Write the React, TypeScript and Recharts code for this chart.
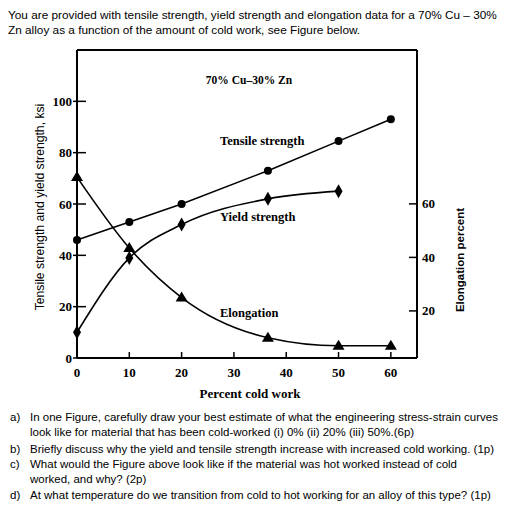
import React from "react";
import { LineChart, Line, XAxis, YAxis, ReferenceLine } from "recharts";

const coldWork = [0, 10, 20, 36.5, 50, 60];
const tensileStrength = [46, 53, 60, 73, 84.5, 93];
const yieldStrength = [10, 39, 52, 62, 65, null];
const elongationPct = [70, 43.5, 25, 10, 7, 7];

const xTicks = [0, 10, 20, 30, 40, 50, 60];
const leftTicks = [0, 20, 40, 60, 80, 100];
const rightTicks = [20, 40, 60];

const introLines = [
  "You are provided with tensile strength, yield strength and elongation data for a 70% Cu \u2013 30%",
  "Zn alloy as a function of the amount of cold work, see Figure below.",
];

const questionLines: { tag: string; text: string; y: number }[] = [
  { tag: "a)", text: "In one Figure, carefully draw your best estimate of what the engineering stress-strain curves", y: 417 },
  { tag: "", text: "look like for material that has been cold-worked (i) 0% (ii) 20% (iii) 50%.(6p)", y: 432 },
  { tag: "b)", text: "Briefly discuss why the yield and tensile strength increase with increased cold working. (1p)", y: 449 },
  { tag: "c)", text: "What would the Figure above look like if the material was hot worked instead of cold", y: 464 },
  { tag: "", text: "worked, and why? (2p)", y: 479 },
  { tag: "d)", text: "At what temperature do we transition from cold to hot working for an alloy of this type? (1p)", y: 495 },
];

const data = coldWork.map((x, i) => ({
  x,
  tensile: tensileStrength[i],
  yield: yieldStrength[i],
  elong: elongationPct[i],
}));

const SERIF = "'Liberation Serif', 'DejaVu Serif', serif";
const SANS = "'Liberation Sans', Arial, sans-serif";

const LeftTick = (props: any) => {
  const { x, y, payload } = props;
  return (
    <g>
      <line x1={x - 4} x2={x + 9} y1={y} y2={y} stroke="#000" strokeWidth={1.5} />
      <text x={x - 5} y={y} dy="0.35em" textAnchor="end" fontFamily={SERIF} fontWeight="bold" fontSize={13} fill="#000">
        {payload.value}
      </text>
    </g>
  );
};

const RightTick = (props: any) => {
  const { x, y, payload } = props;
  return (
    <g>
      <line x1={x - 8} x2={x} y1={y} y2={y} stroke="#000" strokeWidth={1.5} />
      <text x={x + 5} y={y} dy="0.35em" textAnchor="start" fontFamily={SERIF} fontWeight="bold" fontSize={13} fill="#000">
        {payload.value}
      </text>
    </g>
  );
};

const BottomTick = (props: any) => {
  const { x, y, payload } = props;
  return (
    <g>
      {payload.value !== 0 && <line x1={x} x2={x} y1={y - 6} y2={y} stroke="#000" strokeWidth={1.5} />}
      <text x={x} y={y + 14} dy="0.35em" textAnchor="middle" fontFamily={SERIF} fontWeight="bold" fontSize={13} fill="#000">
        {payload.value}
      </text>
    </g>
  );
};

const CircleDot = (props: any) => {
  const { cx, cy, index } = props;
  if (cx == null || cy == null) return <g key={index} />;
  return <circle key={index} cx={cx} cy={cy} r={4} fill="#000" />;
};

const DiamondDot = (props: any) => {
  const { cx, cy, index, value } = props;
  if (cx == null || cy == null || value == null) return <g key={index} />;
  return (
    <polygon
      key={index}
      points={`${cx},${cy - 7} ${cx + 4},${cy} ${cx},${cy + 7} ${cx - 4},${cy}`}
      fill="#000"
    />
  );
};

const TriangleDot = (props: any) => {
  const { cx, cy, index } = props;
  if (cx == null || cy == null) return <g key={index} />;
  return (
    <polygon
      key={index}
      points={`${cx},${cy - 6} ${cx + 6},${cy + 4} ${cx - 6},${cy + 4}`}
      fill="#000"
    />
  );
};

const abs = (style: React.CSSProperties): React.CSSProperties => ({
  position: "absolute",
  whiteSpace: "nowrap",
  color: "#000",
  ...style,
});

export default function App() {
  return (
    <div style={{ position: "absolute", left: 0, top: 0, width: 530, height: 527, background: "#fff", overflow: "hidden" }}>
      {introLines.map((t, i) => (
        <div key={i} style={abs({ left: 8, top: 8 + i * 15, fontFamily: SANS, fontSize: 11.8, lineHeight: "14px" })}>
          {t}
        </div>
      ))}

      <div style={{ position: "absolute", left: 0, top: 0 }}>
        <LineChart width={530} height={527} data={data} margin={{ top: 50, left: 47, right: 83, bottom: 139 }}>
          <XAxis
            dataKey="x"
            type="number"
            domain={[0, 65]}
            ticks={xTicks}
            height={30}
            tickSize={0}
            tickMargin={0}
            tickLine={false}
            axisLine={{ stroke: "#000", strokeWidth: 2 }}
            tick={<BottomTick />}
            interval={0}
          />
          <YAxis
            yAxisId="left"
            type="number"
            domain={[0, 120]}
            ticks={leftTicks}
            width={30}
            tickSize={0}
            tickMargin={0}
            tickLine={false}
            axisLine={{ stroke: "#000", strokeWidth: 2 }}
            tick={<LeftTick />}
            interval={0}
          />
          <YAxis
            yAxisId="right"
            orientation="right"
            type="number"
            domain={[2.4, 117.5]}
            ticks={rightTicks}
            width={30}
            tickSize={0}
            tickMargin={0}
            tickLine={false}
            axisLine={{ stroke: "#000", strokeWidth: 2 }}
            tick={<RightTick />}
            interval={0}
          />
          <ReferenceLine yAxisId="left" y={120} stroke="#000" strokeWidth={2} />
          <Line
            yAxisId="left"
            dataKey="tensile"
            type="linear"
            stroke="#000"
            strokeWidth={1.6}
            dot={CircleDot}
            activeDot={false}
            isAnimationActive={false}
          />
          <Line
            yAxisId="left"
            dataKey="yield"
            type="monotone"
            stroke="#000"
            strokeWidth={1.6}
            dot={DiamondDot}
            activeDot={false}
            isAnimationActive={false}
          />
          <Line
            yAxisId="right"
            dataKey="elong"
            type="monotone"
            stroke="#000"
            strokeWidth={1.6}
            dot={TriangleDot}
            activeDot={false}
            isAnimationActive={false}
          />
        </LineChart>
      </div>

      <div style={abs({ left: 249, top: 73, transform: "translateX(-50%)", fontFamily: SERIF, fontWeight: "bold", fontSize: 11.5, lineHeight: "14px" })}>
        70% Cu–30% Zn
      </div>
      <div style={abs({ left: 220, top: 134, fontFamily: SERIF, fontWeight: "bold", fontSize: 12.5, lineHeight: "14px" })}>
        Tensile strength
      </div>
      <div style={abs({ left: 220, top: 210, fontFamily: SERIF, fontWeight: "bold", fontSize: 12.5, lineHeight: "14px" })}>
        Yield strength
      </div>
      <div style={abs({ left: 220, top: 306, fontFamily: SERIF, fontWeight: "bold", fontSize: 12.5, lineHeight: "14px" })}>
        Elongation
      </div>
      <div style={abs({ left: 250, top: 387, transform: "translateX(-50%)", fontFamily: SERIF, fontWeight: "bold", fontSize: 13, lineHeight: "14px" })}>
        Percent cold work
      </div>
      <div
        style={abs({
          left: 40,
          top: 207,
          transform: "translate(-50%, -50%) rotate(-90deg)",
          fontFamily: SANS,
          fontSize: 12.2,
          lineHeight: "14px",
        })}
      >
        Tensile strength and yield strength, ksi
      </div>
      <div
        style={abs({
          left: 460,
          top: 260,
          transform: "translate(-50%, -50%) rotate(-90deg)",
          fontFamily: SANS,
          fontWeight: "bold",
          fontSize: 11.5,
          lineHeight: "14px",
        })}
      >
        Elongation percent
      </div>

      {questionLines.map((q, i) => (
        <React.Fragment key={i}>
          {q.tag && (
            <div style={abs({ left: 10, top: q.y - 7, fontFamily: SANS, fontSize: 11.5, lineHeight: "14px" })}>{q.tag}</div>
          )}
          <div style={abs({ left: 30, top: q.y - 7, fontFamily: SANS, fontSize: 11.5, lineHeight: "14px" })}>{q.text}</div>
        </React.Fragment>
      ))}
    </div>
  );
}
